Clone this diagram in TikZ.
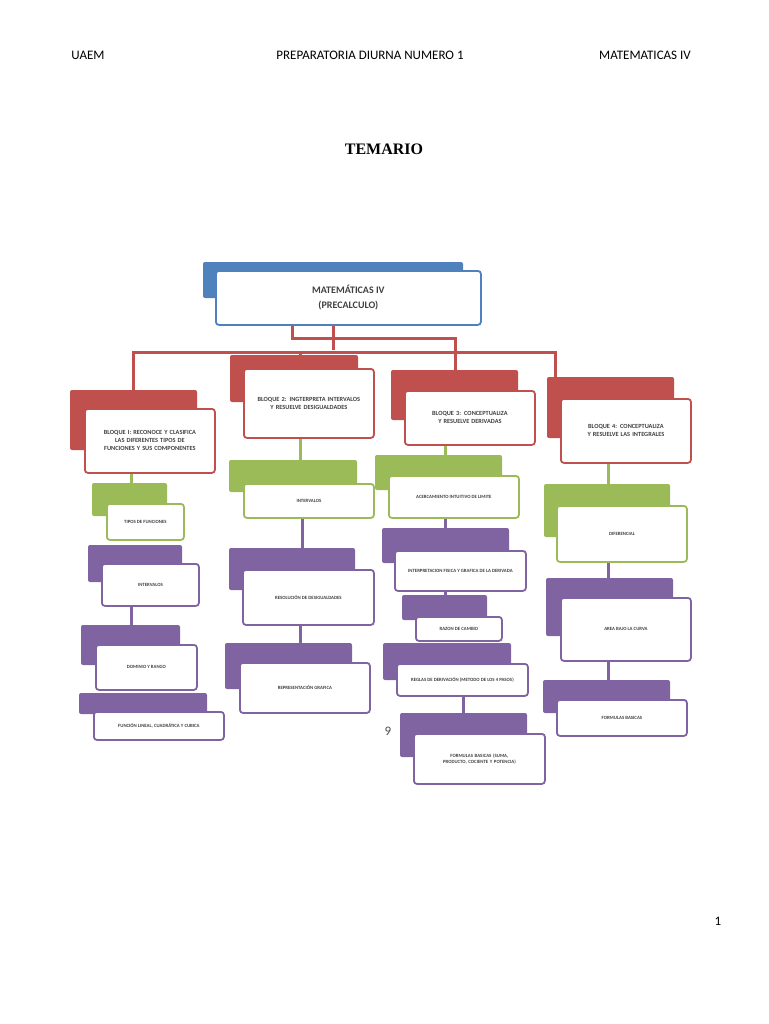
\documentclass[tikz,border=0pt]{standalone}
\usepackage{fontspec}
\setmainfont{Carlito}
\newfontfamily\serifb{Liberation Serif}
\definecolor{cred}{HTML}{C0504D}
\definecolor{cgreen}{HTML}{9BBB59}
\definecolor{cpurple}{HTML}{8064A2}
\definecolor{cblue}{HTML}{4F81BD}
\begin{document}
\hyphenpenalty=10000
\begin{tikzpicture}[x=1pt,y=-1pt,
 front/.style={draw=#1,line width=1.8pt,fill=white,rounded corners=3pt,anchor=north west,inner sep=2pt,align=center,font=\fontsize{4.8}{5.6}\selectfont\bfseries,text=black!75},
 backbox/.style={fill=#1,rounded corners=2pt},
 link/.style={line width=3pt,draw=#1}]
\useasboundingbox (0,0) rectangle (768,1024);
\node[font=\fontsize{13}{15}\selectfont] (h1) at (88,55) {UAEM};
\node[font=\fontsize{13}{15}\selectfont] (h2) at (370,55) {PREPARATORIA DIURNA NUMERO 1};
\node[font=\fontsize{13}{15}\selectfont] (h3) at (645,55) {MATEMATICAS IV};
\node[font=\fontsize{16}{18}\selectfont\serifb\bfseries] (t) at (384,149) {TEMARIO};
\node[font=\fontsize{13}{15}\selectfont] (pg) at (718,921) {1};
\node[font=\fontsize{13}{15}\selectfont,text=black!70] (nine) at (388,731) {9};
% connectors (behind)
\coordinate (j0) at (333,350);
\draw[link=cred] (292,324) -- (292,338) -- (455,338) -- (455,370);
\draw[link=cred] (333,324) -- (j0);
\draw[link=cred] (133,390) -- (133,352) -- (555,352) -- (555,377);
\draw[link=cred] (300,352) -- (300,355);
\draw[link=cgreen] (131,472) -- (131,483);
\draw[link=cpurple] (131,605) -- (131,625);
\draw[link=cgreen] (300,437) -- (300,460);
\draw[link=cpurple] (302,517) -- (302,548);
\draw[link=cpurple] (300,624) -- (300,643);
\draw[link=cgreen] (445,444) -- (445,455);
\draw[link=cpurple] (445,517) -- (445,528);
\draw[link=cpurple] (445,590) -- (445,595);
\draw[link=cpurple] (463,695) -- (463,713);
\draw[link=cgreen] (608,462) -- (608,484);
\draw[link=cpurple] (608,561) -- (608,578);
\draw[link=cpurple] (608,660) -- (608,680);
% top
\fill[backbox=cblue] (203,262) rectangle (463,298);
\node[front=cblue,minimum width=265pt,minimum height=54pt,font=\fontsize{10}{15}\selectfont\bfseries] (top) at (215,270) {MATEMÁTICAS IV\\(PRECALCULO)};
% bloques
\fill[backbox=cred] (70,390) rectangle (197,450);
\node[front=cred,minimum width=130pt,minimum height=64pt,text width=122pt,font=\fontsize{6.3}{8}\selectfont\bfseries] (b1) at (84,408) {BLOQUE I: RECONOCE Y CLASIFICA LAS DIFERENTES TIPOS DE FUNCIONES Y SUS COMPONENTES};
\fill[backbox=cred] (230,355) rectangle (358,402);
\node[front=cred,minimum width=130pt,minimum height=69pt,text width=122pt,font=\fontsize{6.3}{8}\selectfont\bfseries] (b2) at (243,368) {BLOQUE 2: INGTERPRETA INTERVALOS Y RESUELVE DESIGUALDADES};
\fill[backbox=cred] (391,370) rectangle (518,420);
\node[front=cred,minimum width=130pt,minimum height=54pt,text width=122pt,font=\fontsize{6.3}{8}\selectfont\bfseries] (b3) at (404,390) {BLOQUE 3: CONCEPTUALIZA Y RESUELVE DERIVADAS};
\fill[backbox=cred] (547,377) rectangle (674,438);
\node[front=cred,minimum width=130pt,minimum height=64pt,text width=122pt,font=\fontsize{6.3}{8}\selectfont\bfseries] (b4) at (560,398) {BLOQUE 4: CONCEPTUALIZA Y RESUELVE LAS INTEGRALES};
% col1
\fill[backbox=cgreen] (92,483) rectangle (167,516);
\node[front=cgreen,minimum width=77pt,minimum height=36pt] (c11) at (106,503) {TIPOS DE FUNCIONES};
\fill[backbox=cpurple] (88,545) rectangle (182,582);
\node[front=cpurple,minimum width=97pt,minimum height=42pt] (c12) at (101,563) {INTERVALOS};
\fill[backbox=cpurple] (81,625) rectangle (180,665);
\node[front=cpurple,minimum width=101pt,minimum height=45pt] (c13) at (95,644) {DOMINIO Y RANGO};
\fill[backbox=cpurple] (79,693) rectangle (207,714);
\node[front=cpurple,minimum width=130pt,minimum height=28pt] (c14) at (93,711) {FUNCIÓN LINEAL, CUADRÁTICA Y CUBICA};
% col2
\fill[backbox=cgreen] (229,460) rectangle (357,492);
\node[front=cgreen,minimum width=130pt,minimum height=34pt] (c21) at (243,483) {INTERVALOS};
\fill[backbox=cpurple] (229,548) rectangle (355,590);
\node[front=cpurple,minimum width=131pt,minimum height=55pt] (c22) at (242,569) {RESOLUCIÓN DE DESIGUALDADES};
\fill[backbox=cpurple] (225,643) rectangle (352,689);
\node[front=cpurple,minimum width=130pt,minimum height=50pt] (c23) at (239,662) {REPRESENTACIÓN GRAFICA};
% col3
\fill[backbox=cgreen] (375,455) rectangle (502,490);
\node[front=cgreen,minimum width=130pt,minimum height=42pt] (c31) at (388,475) {ACERCAMIENTO INTUITIVO DE LIMITE};
\fill[backbox=cpurple] (382,528) rectangle (509,563);
\node[front=cpurple,minimum width=131pt,minimum height=40pt] (c32) at (394,550) {INTERPRETACION FISICA Y GRAFICA DE LA DERIVADA};
\fill[backbox=cpurple] (402,595) rectangle (487,620);
\node[front=cpurple,minimum width=86pt,minimum height=24pt] (c33) at (415,616) {RAZON DE CAMBIO};
\fill[backbox=cpurple] (383,643) rectangle (511,680);
\node[front=cpurple,minimum width=131pt,minimum height=32pt] (c34) at (396,663) {REGLAS DE DERIVACIÓN (METODO DE LOS 4 PASOS)};
\fill[backbox=cpurple] (400,713) rectangle (527,757);
\node[front=cpurple,minimum width=131pt,minimum height=50pt,text width=122pt] (c35) at (413,733) {FORMULAS BASICAS (SUMA, PRODUCTO, COCIENTE Y POTENCIA)};
% col4
\fill[backbox=cgreen] (544,484) rectangle (670,537);
\node[front=cgreen,minimum width=130pt,minimum height=56pt] (c41) at (556,505) {DIFERENCIAL};
\fill[backbox=cpurple] (546,578) rectangle (673,636);
\node[front=cpurple,minimum width=130pt,minimum height=63pt] (c42) at (560,597) {AREA BAJO LA CURVA};
\fill[backbox=cpurple] (543,680) rectangle (670,713);
\node[front=cpurple,minimum width=130pt,minimum height=36pt] (c43) at (556,699) {FORMULAS BASICAS};
\end{tikzpicture}
\end{document}
